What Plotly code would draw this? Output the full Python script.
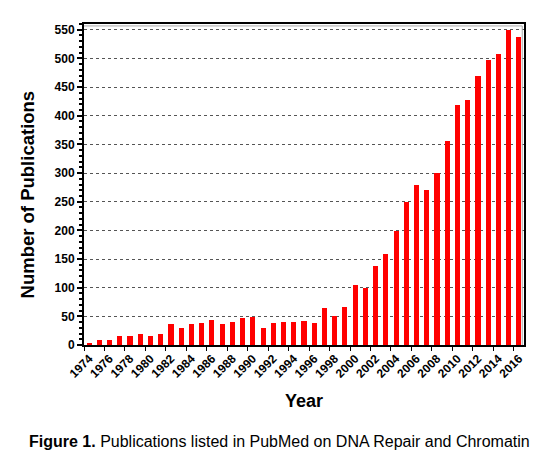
#!/usr/bin/env python3
# -*- coding: utf-8 -*-
# Publications per year in PubMed on DNA repair and chromatin
import plotly.graph_objects as go

# data
years = list(range(1974, 2017))
publications = [4, 8, 8, 15, 15, 20, 16, 20, 37, 30,
                37, 38, 43, 37, 40, 47, 49, 30, 38, 40,
                40, 42, 38, 65, 50, 67, 104, 100, 137, 158,
                199, 249, 280, 270, 300, 356, 418, 428, 470, 497,
                508, 550, 538]
year_ticks = list(range(1974, 2017, 2))
y_ticks = list(range(0, 551, 50))

FONT = "Arial, Liberation Sans, sans-serif"


def bar_plot():
    """
        Does: builds the bar chart of the publications by year
    """
    fig = go.Figure(go.Bar(x=years, y=publications,
                           width=0.5,
                           marker=dict(color="#ff0000", line=dict(width=0))))
    # page body adds 8px, so the figure is a bit smaller than the window
    fig.update_layout(
        width=543, height=466,
        margin=dict(l=76, r=27, t=16, b=129),
        plot_bgcolor="white", paper_bgcolor="white",
        font=dict(family=FONT, color="black"),
        showlegend=False,
        bargap=0,
    )
    # ticks sit on the left edge of the even-year bars
    fig.update_xaxes(range=[1973.5, 2016.5],
                     tickmode="array", tickvals=year_ticks,
                     ticktext=[str(y) for y in year_ticks],
                     tickangle=-45,
                     tickfont=dict(size=12, family=FONT, weight="bold"),
                     ticks="",
                     minor=dict(tickmode="array", tickvals=[y - 0.5 for y in year_ticks],
                                ticks="outside", ticklen=4, tickwidth=1,
                                tickcolor="black", showgrid=False),
                     showline=True, linecolor="black", linewidth=2, mirror=True,
                     showgrid=False, zeroline=False)
    fig.update_yaxes(range=[0, 560],
                     tickmode="array", tickvals=y_ticks,
                     tickfont=dict(size=12, family=FONT, weight="bold"),
                     ticks="outside", ticklen=5, tickwidth=2, tickcolor="black",
                     minor=dict(dtick=10, tick0=0, ticks="outside", ticklen=3,
                                tickcolor="black", showgrid=False),
                     showline=True, linecolor="black", linewidth=2, mirror=True,
                     showgrid=True, gridcolor="#555555", griddash="dot", gridwidth=1,
                     zeroline=False)
    # faint grey inner edge of the frame, top and right
    fig.add_shape(type="line", xref="paper", yref="paper",
                  x0=0, x1=0.996, y0=0.994, y1=0.994,
                  line=dict(color="#aaaaaa", width=1))
    fig.add_shape(type="line", xref="paper", yref="paper",
                  x0=0.996, x1=0.996, y0=0, y1=0.994,
                  line=dict(color="#aaaaaa", width=1))
    fig.add_annotation(text="<b>Number of Publications</b>", textangle=-90,
                       xref="paper", yref="paper", x=-0.1295, y=0.469,
                       xanchor="center", yanchor="middle", showarrow=False,
                       font=dict(size=18.5, family=FONT))
    fig.add_annotation(text="<b>Year</b>", xref="paper", yref="paper",
                       x=0.5, y=-0.174, showarrow=False, yanchor="middle",
                       font=dict(size=18, family=FONT))
    fig.add_annotation(text="<b>Figure 1.</b> Publications listed in PubMed on DNA Repair and Chromatin",
                       xref="paper", yref="paper", x=-0.1295, xanchor="left",
                       y=-0.302, yanchor="middle", showarrow=False,
                       font=dict(size=16, family=FONT))
    return fig


def main():
    fig = bar_plot()
    fig.write_html("out.html")


if __name__ == "__main__":
    main()
